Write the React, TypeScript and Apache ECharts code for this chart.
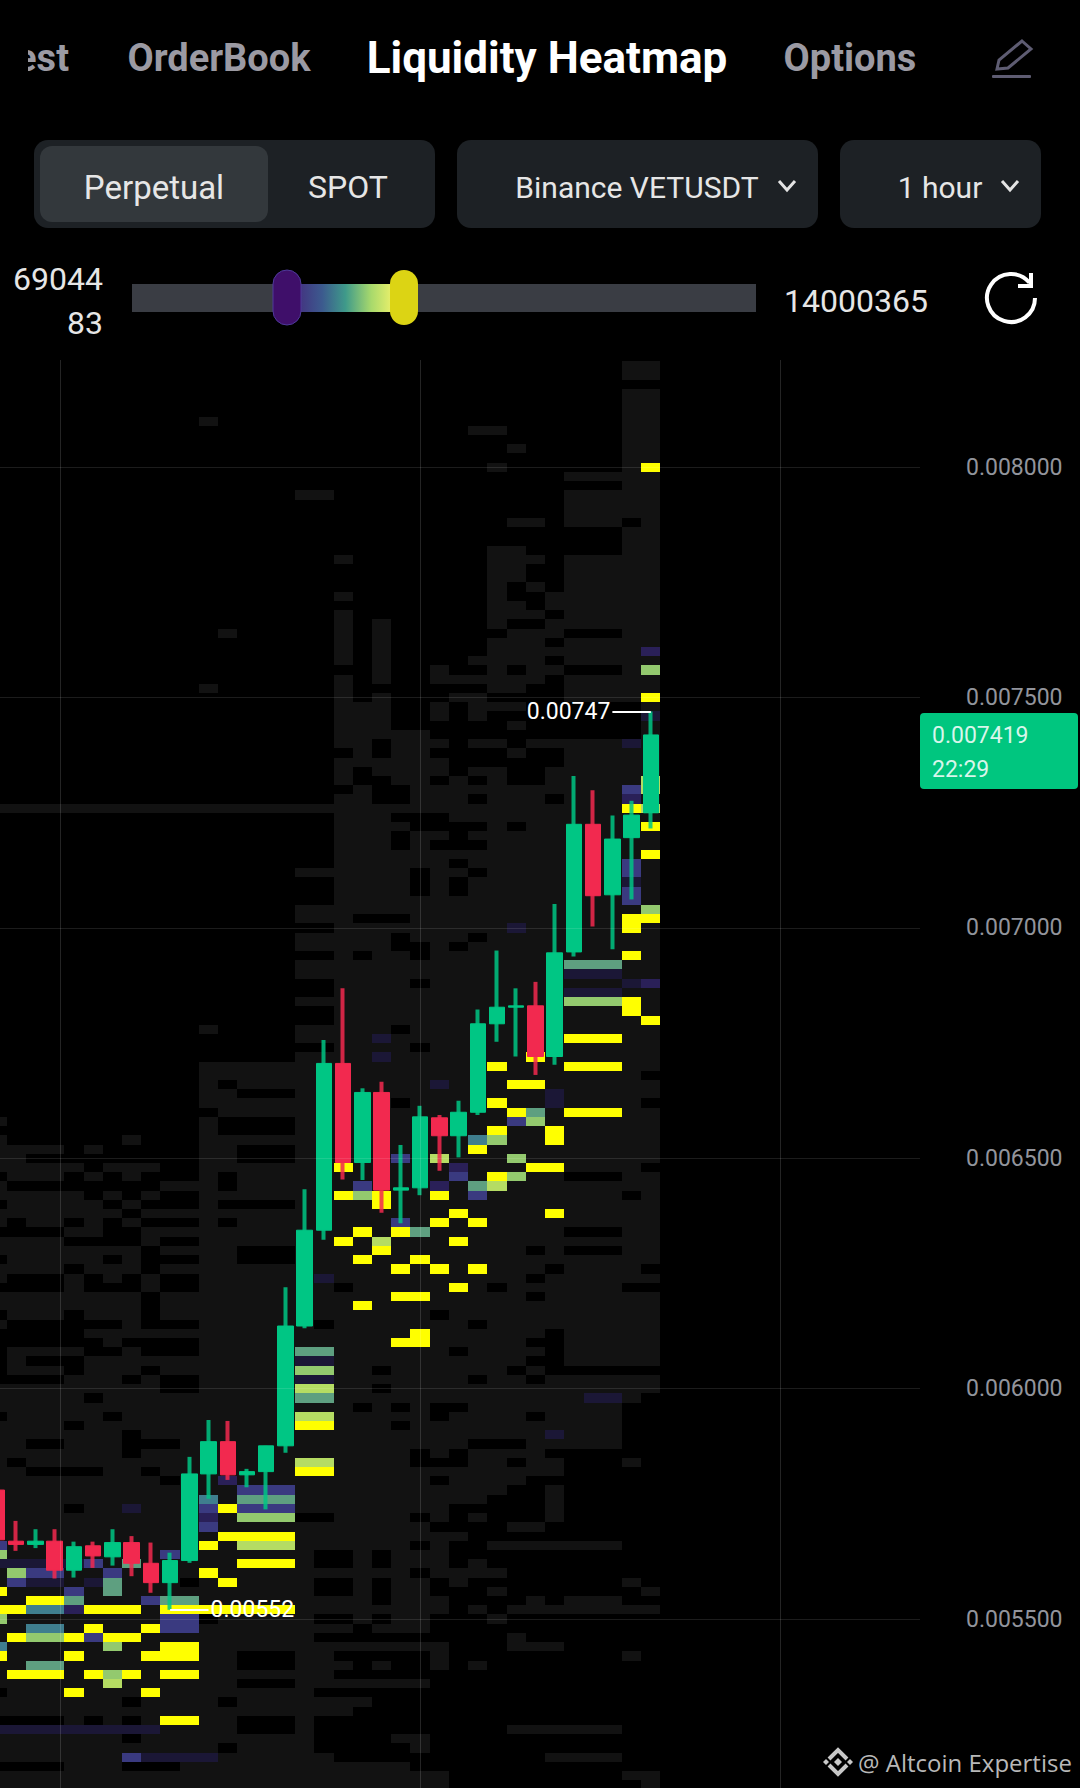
import React, { useEffect, useRef } from "react";
import * as echarts from "echarts";

type Cell = [number, number, number];
type Block = [number, number, number, number];

const binSize = 0.00002;
const bandCount = 49;
const priceTicks = 0.0005;
const lastPrice = 0.007419;
const highLabel = "0.00747";
const highPrice = 0.00747;
const lowLabel = "0.00552";
const lowPrice = 0.00552;

// open, close, low, high
const candles: number[][] = [
  [0.00578, 0.005672, 0.005661, 0.005782],
  [0.005669, 0.005662, 0.005648, 0.005713],
  [0.005662, 0.005669, 0.005654, 0.005695],
  [0.005669, 0.005606, 0.005588, 0.005695],
  [0.005606, 0.005657, 0.00559, 0.005668],
  [0.005659, 0.005637, 0.005611, 0.005668],
  [0.005635, 0.005666, 0.005616, 0.005695],
  [0.005666, 0.005621, 0.005593, 0.00568],
  [0.005621, 0.005579, 0.005557, 0.005666],
  [0.005579, 0.005627, 0.00552, 0.005644],
  [0.005627, 0.005815, 0.005622, 0.005852],
  [0.005815, 0.005885, 0.005761, 0.005932],
  [0.005885, 0.005813, 0.005802, 0.00593],
  [0.005813, 0.00582, 0.005786, 0.005826],
  [0.00582, 0.005876, 0.005738, 0.005876],
  [0.005876, 0.006136, 0.005861, 0.00622],
  [0.006136, 0.006344, 0.006131, 0.006433],
  [0.006344, 0.006706, 0.006323, 0.006757],
  [0.006706, 0.006491, 0.006454, 0.006869],
  [0.006491, 0.006643, 0.006453, 0.006652],
  [0.006643, 0.006431, 0.006382, 0.006666],
  [0.006431, 0.006436, 0.006359, 0.006529],
  [0.006436, 0.00659, 0.00642, 0.006614],
  [0.006588, 0.006549, 0.006473, 0.006594],
  [0.006549, 0.0066, 0.006502, 0.006625],
  [0.0066, 0.006792, 0.006594, 0.006823],
  [0.006792, 0.006828, 0.006753, 0.006951],
  [0.006828, 0.006831, 0.006721, 0.006869],
  [0.006831, 0.006721, 0.006681, 0.006883],
  [0.006721, 0.006946, 0.006703, 0.007052],
  [0.006948, 0.007225, 0.006938, 0.00733],
  [0.007225, 0.00707, 0.007003, 0.007299],
  [0.007072, 0.007193, 0.006954, 0.007244],
  [0.007196, 0.007245, 0.007062, 0.007276],
  [0.00725, 0.007419, 0.007216, 0.00747],
];

// Order-book cells: [first column, last column, price bin] (bin = price / 0.00002)
const yellowCells: Cell[] = [
  [34,34,400],[34,34,375],[33,33,363],[34,34,361],[34,34,358],[33,33,351],[33,33,350],[34,34,351],[33,33,347],[33,33,342],[33,33,341],[34,34,340],[30,32,338],[30,32,335],[26,26,335],[28,28,336],[27,28,333],[26,26,331],[27,27,330],[30,32,330],[26,26,328],[29,29,328],[29,29,327],[25,25,326],[18,18,324],[28,29,324],[26,26,323],[18,18,321],[20,20,321],[23,23,321],[20,20,320],[24,24,319],[29,29,319],[23,23,318],[25,25,318],[19,19,317],[21,21,317],[18,18,316],[24,24,316],[20,20,315],[19,19,314],[22,22,314],[21,21,313],[23,23,313],[25,25,313],[24,24,311],[21,22,310],[19,19,309],[22,22,306],[21,22,305],[16,17,296],[16,17,291],[12,12,287],[12,15,284],[11,11,283],[13,15,281],[11,11,280],[12,12,279],[0,0,278],[2,3,277],[0,1,276],[5,7,276],[9,15,276],[5,5,274],[8,8,274],[1,1,273],[4,4,273],[6,7,273],[9,10,272],[0,0,271],[4,4,271],[8,10,271],[1,3,269],[5,5,269],[7,7,269],[9,10,269],[4,4,267],[8,8,267],[9,10,264],
];
const limeCells: Cell[] = [
  [20,20,316],[26,26,322],[16,17,300],[16,17,297],[16,17,292],[13,15,283],[6,6,268],[23,23,325],[34,34,366],[34,34,365],[34,34,363],
];
const leafCells: Cell[] = [
  [34,34,378],[34,34,352],[30,32,342],[28,28,329],[26,26,327],[27,27,325],[27,27,323],[19,19,321],[16,17,302],[13,15,286],[0,0,282],[1,1,280],[0,0,275],[2,3,273],[6,6,272],[6,6,269],
];
const greenCells: Cell[] = [
  [30,32,346],[28,28,330],[25,25,322],[22,22,317],[16,17,304],[16,17,299],[13,15,288],[4,4,277],[9,10,277],[6,6,279],[6,6,278],[2,3,270],[7,7,281],
];
const tealCells: Cell[] = [
  [25,25,327],[11,11,288],[2,3,276],[2,3,274],[0,0,272],
];
const indigoCells: Cell[] = [
  [21,21,325],[27,27,329],[19,19,322],[24,24,323],[25,25,321],[21,21,318],[33,33,365],[33,33,357],[33,33,356],[33,33,354],[33,33,353],[13,15,289],[13,15,287],[11,11,287],[9,9,282],[0,0,283],[5,5,281],[2,3,280],[6,6,280],[1,1,279],[4,4,278],[8,8,277],[9,10,275],[9,10,274],[5,5,273],[7,7,260],[11,11,285],
];
const purpleCells: Cell[] = [
  [34,34,380],[34,34,344],[23,23,322],[24,24,324],[33,33,364],[4,4,276],[11,11,286],[12,12,290],
];
const duskCells: Cell[] = [
  [34,34,373],[33,33,370],[33,33,355],[33,33,344],[30,32,343],[30,32,345],[29,29,332],[29,29,331],[17,17,312],[16,17,303],[16,17,301],[0,5,281],[3,8,263],[8,11,260],[2,3,279],[5,6,279],
  [20,20,338],[20,20,336],[23,23,333],[27,27,350],[31,32,299],[29,29,295],[7,7,287],[0,2,263],
];

// Faint grey zones: [first column, last column, top bin, bottom bin]
const darkBlocks: Block[] = [
  [33,34,411,410],[33,34,408,301],[18,32,369,301],
  [11,11,405,405],[25,26,404,404],[27,27,402,402],[26,26,400,400],[30,32,399,399],[30,32,397,394],[16,17,397,397],[27,28,394,394],[30,32,390,383],[30,32,381,379],[30,32,377,375],[26,27,391,388],[26,26,387,383],[28,28,390,390],[28,28,387,387],[18,18,390,390],[18,18,386,386],[18,18,384,379],[18,18,377,370],[20,20,383,377],[20,20,375,371],[12,12,382,382],[29,29,386,385],[29,29,383,382],[29,29,380,380],[29,29,378,378],[27,27,385,384],[28,28,384,384],[27,28,382,379],[26,26,381,379],[25,25,379,379],[26,26,378,378],[28,28,378,378],[23,23,378,377],[24,28,377,377],[11,11,376,376],[26,27,376,376],[24,25,375,375],[19,19,374,370],[23,23,374,373],[25,27,374,374],[25,25,373,373],[27,27,372,372],[21,22,371,370],[23,23,370,370],[25,26,370,370],[28,32,370,370],
  [0,17,363,363],[16,17,356,356],[16,17,352,351],[16,17,349,348],[16,17,346,345],[16,17,342,342],[16,17,339,338],[16,17,336,256],[11,11,339,339],[11,15,335,256],
  [0,0,329,329],[0,0,327,327],[7,7,327,327],[0,3,326,326],[5,5,326,326],[0,1,325,325],[0,4,324,324],[6,8,324,324],[1,3,323,323],[5,5,323,323],[7,7,323,323],[0,0,322,322],[9,10,322,322],[0,4,321,321],[6,6,321,321],[8,8,321,321],[1,5,320,320],[7,7,320,320],[0,6,319,319],[8,10,319,319],[0,0,318,318],[2,3,318,318],[5,5,318,318],[7,7,318,318],[4,5,317,317],[8,10,317,317],[0,3,316,316],[8,8,316,316],[0,7,315,315],[9,10,315,315],[1,5,314,314],[7,7,314,314],[0,3,313,313],[5,7,313,313],[9,10,313,313],[0,0,312,312],[4,4,312,312],[6,6,312,312],[8,8,312,312],[4,4,311,311],[8,8,311,311],[0,7,310,310],[9,10,310,310],[0,7,309,309],[9,10,309,309],[1,3,308,308],[5,7,308,308],[9,10,308,308],[0,0,307,307],[7,7,307,307],[5,10,306,306],[6,6,305,305],[1,4,304,304],[7,7,304,304],[1,1,303,303],[5,10,303,303],[1,3,302,302],[5,7,302,302],[9,10,302,302],[4,6,301,301],[8,8,301,301],[0,8,300,300],[0,4,299,299],[6,10,299,299],[0,10,298,256],
  [18,34,300,300],[18,33,299,299],[18,32,298,294],[18,28,293,293],[18,29,292,291],[33,33,292,292],[18,27,290,290],[18,26,289,289],[29,29,289,286],[18,25,288,288],[18,23,287,286],[25,25,286,286],[18,22,285,285],[27,28,285,285],[18,24,284,284],[18,23,283,281],[26,32,283,283],[25,25,281,281],[18,26,280,280],[18,22,279,278],[24,24,279,279],[33,33,279,279],[26,26,278,278],[34,34,278,278],[18,23,277,276],[28,28,277,277],[30,32,277,277],[25,25,276,276],[27,34,276,276],[18,22,275,274],[26,26,275,275],[27,27,273,273],[18,23,272,272],[27,29,272,272],[23,23,271,270],[33,33,271,271],[18,18,270,270],[20,20,270,270],[25,25,270,270],[18,22,268,268],[18,19,266,266],[18,18,265,265],[27,32,263,263],[21,22,262,262],[22,22,261,261],[29,32,260,260],[18,21,259,259],[18,23,258,256],[33,34,258,258],[34,34,257,256],
];

// Empty gaps in the grey zones: [first column, last column, bin]
const gapCells: Cell[] = [
  [0,0,297],[6,6,297],[4,4,296],[7,7,295],[7,7,294],[7,7,293],[2,3,294],[8,9,294],[1,1,292],[2,5,291],[8,8,291],[9,9,290],[4,4,287],[16,17,286],[17,17,282],[17,17,281],[17,17,279],[17,17,278],[10,10,279],[11,11,275],[17,17,275],[17,17,273],[13,15,271],[13,15,270],[13,15,268],[0,0,267],[17,17,267],[7,7,266],[12,12,266],[0,3,264],[5,5,264],[7,7,264],[13,15,264],[17,17,264],[13,15,263],[17,17,263],[7,7,262],[17,17,262],[12,12,261],[17,17,261],[0,3,259],[7,9,259],
  [12,12,333],[13,15,332],[11,11,330],[12,15,329],[12,15,328],[13,15,326],[13,15,325],[12,12,323],[12,12,322],[12,15,320],[12,12,318],[13,15,315],[13,15,314],[17,17,307],
  [19,19,347],[22,22,347],[22,22,344],[21,21,339],[22,22,337],[21,21,331],[34,34,334],[34,34,331],[34,34,324],[30,32,323],[33,33,321],[30,32,317],[30,32,315],[28,28,315],[29,29,313],[34,34,313],[28,28,312],[18,18,311],[26,26,311],[33,34,311],[28,28,310],[23,23,308],[25,25,307],[29,29,306],[28,29,305],[24,24,304],[29,29,304],[28,29,303],[20,20,302],[27,27,302],[29,34,302],[25,25,301],[28,28,301],[20,20,300],
  [18,18,369],[20,20,369],[23,26,369],[28,29,369],[24,29,368],[19,19,367],[24,24,367],[27,28,367],[19,20,366],[23,23,366],[25,25,366],[27,28,366],[18,18,365],[20,21,365],[20,21,364],[25,25,364],[29,29,364],[21,23,362],[22,25,361],[27,27,361],[21,21,360],[24,24,360],[21,21,359],[23,25,359],[24,24,357],[22,22,356],[25,25,356],[22,22,355],[24,24,355],[22,22,354],[24,24,354],[19,21,351],[21,21,349],[25,25,349],[21,22,348],[24,24,348],
  [33,33,394],[33,33,374],[33,33,373],[33,33,372],[33,33,371],
  [20,20,300],[19,19,298],[21,21,298],[23,24,298],[23,23,297],[28,28,297],[21,21,296],[25,27,294],[22,22,293],[24,24,293],[22,24,292],[27,27,292],[23,23,290],[22,22,286],[22,22,283],[18,18,282],[20,20,282],[18,18,281],[20,20,281],[22,22,280],[18,18,279],[20,20,279],[18,18,278],[20,20,278],[20,20,277],[18,18,275],[20,20,275],[19,19,274],
];

const FONT = "Roboto";
const BG = "#000000";
const TILE = "#121212";
const UP = "#00C684";
const DOWN = "#F2294F";

const toRows = (cells: Cell[]) =>
  cells.map(([a, b, bin]) => [a, (bin + 0.5) * binSize, b, (bin - 0.5) * binSize]);
const blockRows = (blocks: Block[]) =>
  blocks.map(([a, b, hi, lo]) => [a, (hi + 0.5) * binSize, b, (lo - 0.5) * binSize]);

const cellRender = (color: string) => (_: any, api: any) => {
  const band = api.size([1, 0])[0];
  const p1 = api.coord([api.value(0), api.value(1)]);
  const p2 = api.coord([api.value(2), api.value(3)]);
  const x0 = Math.round(p1[0] - band / 2);
  const x1 = Math.round(p2[0] + band / 2);
  const y0 = Math.round(p1[1]);
  const y1 = Math.round(p2[1]);
  return { type: "rect", shape: { x: x0, y: y0, width: x1 - x0, height: y1 - y0 }, style: { fill: color } };
};

const cellSeries = (name: string, color: string, data: number[][]) => ({
  type: "custom",
  name,
  xAxisIndex: 1,
  yAxisIndex: 1,
  z: 1,
  silent: true,
  clip: true,
  renderItem: cellRender(color),
  data,
});

const txt = (text: string, x: number, y: number, size: number, fill: string, align = "center", weight = 400, family = FONT) => ({
  type: "text",
  silent: true,
  style: { text, x, y, fill, align, verticalAlign: "middle", font: `${weight} ${size}px "${family}"` },
});
const box = (x: number, y: number, w: number, h: number, r: number, fill: any, extra: any = {}) => ({
  type: "rect",
  silent: true,
  shape: { x, y, width: w, height: h, r },
  style: { fill, ...extra },
});
const chevron = (cx: number, cy: number) => ({
  type: "polyline",
  silent: true,
  shape: { points: [[cx - 8, cy - 5], [cx, cy + 4], [cx + 8, cy - 5]] },
  style: { stroke: "#e4e4e4", lineWidth: 3, fill: "none" },
});
const diamond = (cx: number, cy: number, r: number) => ({
  type: "polygon",
  silent: true,
  shape: { points: [[cx, cy - r], [cx + r, cy], [cx, cy + r], [cx - r, cy]] },
  style: { fill: "#c8c8c8" },
});
const stroke = (points: number[][], color: string, lineWidth: number) => ({
  type: "polyline",
  silent: true,
  shape: { points },
  style: { stroke: color, lineWidth, fill: "none" },
});

export default function App() {
  const ref = useRef<HTMLDivElement>(null);
  useEffect(() => {
    document.body.style.margin = "0";
    document.body.style.background = BG;
    const chart = echarts.init(ref.current!, undefined, { renderer: "svg" });
    const axisMin = 0.005;
    const axisMax = 0.0082328;
    const plotTop = 360;
    const plotH = 1489.4;
    const band = 19.23;
    const hiddenY = { type: "value", show: false, min: axisMin, max: axisMax };
    const sliderFill = new echarts.graphic.LinearGradient(0, 0, 1, 0, [
      { offset: 0, color: "#46207a" },
      { offset: 0.3, color: "#3c5a8e" },
      { offset: 0.5, color: "#3f9a8a" },
      { offset: 0.72, color: "#a8d96c" },
      { offset: 0.92, color: "#f0f26a" },
      { offset: 1, color: "#f6f66c" },
    ]);
    chart.setOption({
      animation: false,
      backgroundColor: BG,
      grid: [
        { left: 0, top: plotTop, width: 920, height: plotH, outerBoundsMode: "none" },
        { left: -12.6, top: plotTop, width: band * bandCount, height: plotH, outerBoundsMode: "none" },
        { left: 60, top: plotTop, width: 720, height: 1428, outerBoundsMode: "none" },
      ],
      xAxis: [
        { type: "value", gridIndex: 0, show: false, min: 0, max: 920 },
        { type: "category", gridIndex: 1, show: false, boundaryGap: true, data: Array.from({ length: bandCount }, (_, i) => String(i)) },
        {
          type: "value", gridIndex: 2, min: 0, max: 720, interval: 360, z: 5,
          axisLine: { show: false }, axisTick: { show: false }, axisLabel: { show: false },
          splitLine: { show: true, lineStyle: { color: "rgba(255,255,255,0.14)", width: 1 } },
        },
      ],
      yAxis: [
        {
          type: "value", gridIndex: 0, position: "right", min: axisMin, max: axisMax, interval: priceTicks, z: 5,
          axisLine: { show: false }, axisTick: { show: false },
          axisLabel: {
            show: true, margin: 46, color: "#92949C", fontSize: 23, fontFamily: FONT, showMaxLabel: false, showMinLabel: false,
            formatter: (v: number) => v.toFixed(6),
          },
          splitLine: { show: true, showMaxLine: false, showMinLine: false, lineStyle: { color: "rgba(255,255,255,0.11)", width: 1 } },
        },
        { ...hiddenY, gridIndex: 1 },
        { type: "value", gridIndex: 2, show: false, min: 0, max: 1 },
      ],
      series: [
        cellSeries("grey", TILE, blockRows(darkBlocks)),
        cellSeries("gaps", BG, toRows(gapCells)),
        cellSeries("dusk", "#1B1736", toRows(duskCells)),
        cellSeries("purple", "#2A2058", toRows(purpleCells)),
        cellSeries("indigo", "#3A3A80", toRows(indigoCells)),
        cellSeries("teal", "#3F7E8E", toRows(tealCells)),
        cellSeries("green", "#5E9F80", toRows(greenCells)),
        cellSeries("leaf", "#93C96E", toRows(leafCells)),
        cellSeries("lime", "#B5DC63", toRows(limeCells)),
        cellSeries("yellow", "#FFFF00", toRows(yellowCells)),
        {
          type: "candlestick", name: "wicks", xAxisIndex: 1, yAxisIndex: 1, z: 3, silent: true,
          barWidth: 1,
          data: candles,
          itemStyle: { color: UP, color0: DOWN, borderColor: UP, borderColor0: DOWN, borderWidth: 4, opacity: 0.85 },
        },
        {
          type: "candlestick", name: "bodies", xAxisIndex: 1, yAxisIndex: 1, z: 4, silent: true,
          barWidth: 16,
          data: candles.map(([o, c]) => [o, c, Math.min(o, c), Math.max(o, c)]),
          itemStyle: { color: UP, color0: DOWN, borderColor: UP, borderColor0: DOWN, borderWidth: 1 },
          markLine: {
            silent: true, symbol: ["none", "none"], animation: false, z: 6,
            lineStyle: { color: "#ffffff", width: 2, type: "solid" },
            label: { show: true, position: "end", formatter: "{b}", color: "#ffffff", fontSize: 23, fontFamily: FONT, distance: 2 },
            data: [
              [{ name: highLabel, coord: ["34", highPrice] }, { coord: ["32", highPrice] }],
              [{ name: lowLabel, coord: ["9", lowPrice] }, { coord: ["11", lowPrice] }],
            ],
          },
        },
        {
          type: "line", name: "last", xAxisIndex: 0, yAxisIndex: 0, z: 6, data: [], silent: true,
          markLine: {
            silent: true, symbol: ["none", "none"], animation: false, label: { show: false },
            lineStyle: { color: "#3FAE8E", width: 2, type: [6, 7] },
            data: [{ yAxis: lastPrice }],
          },
        },
      ],
      graphic: {
        elements: [
          txt("est", 69, 58, 38, "#9b9aa3", "right", 700),
          box(0, 30, 28, 56, 0, BG),
          txt("OrderBook", 219, 58, 38, "#9b9aa3", "center", 700),
          txt("Liquidity Heatmap", 547, 58, 44, "#ffffff", "center", 700),
          txt("Options", 850, 58, 38, "#9b9aa3", "center", 700),
          { type: "polygon", silent: true, shape: { points: [[1022, 41], [1031, 49], [1008, 68], [997, 69], [999, 60]] }, style: { stroke: "#5e5c72", lineWidth: 3, fill: "none" } },
          box(992, 75, 39, 3, 1, "#5e5c72"),
          box(34, 140, 401, 88, 14, "#1D2125"),
          box(40, 146, 228, 76, 12, "#33383C"),
          txt("Perpetual", 154, 187, 33, "#e6e6e6"),
          txt("SPOT", 348, 187, 32, "#e6e6e6"),
          box(457, 140, 361, 88, 14, "#1D2125"),
          txt("Binance VETUSDT", 637, 187, 30, "#e6e6e6"),
          chevron(787, 186),
          box(840, 140, 201, 88, 14, "#1D2125"),
          txt("1 hour", 940, 187, 30, "#e6e6e6"),
          chevron(1010, 186),
          txt("69044", 103, 279, 32, "#e6e6e6", "right"),
          txt("83", 103, 323, 32, "#e6e6e6", "right"),
          box(132, 284, 624, 28, 0, "#3A3D44"),
          box(287, 284, 117, 28, 0, sliderFill),
          box(273, 270, 28, 55, 14, "#3F0F6A", { stroke: "#4E3A9A", lineWidth: 1 }),
          box(390, 270, 28, 55, 14, "#DCD414"),
          txt("14000365", 856, 301, 32, "#e6e6e6"),
          { type: "arc", silent: true, shape: { cx: 1011, cy: 298, r: 24, startAngle: 0, endAngle: 5.6, clockwise: true }, style: { stroke: "#ffffff", lineWidth: 4, fill: "none" } },
          stroke([[1031, 273], [1031, 286], [1018, 286]], "#ffffff", 4),
          box(920, 713, 158, 76, 4, "#00C67F"),
          txt("0.007419", 932, 735, 23, "rgba(255,255,255,0.85)", "left"),
          txt("22:29", 932, 769, 23, "rgba(255,255,255,0.85)", "left"),
          stroke([[829, 1759], [838, 1750], [847, 1759]], "#c8c8c8", 4),
          stroke([[829, 1765], [838, 1774], [847, 1765]], "#c8c8c8", 4),
          diamond(838, 1762, 4),
          diamond(826, 1762, 3),
          diamond(850, 1762, 3),
          txt("@ Altcoin Expertise", 858, 1762, 24, "#b8b8b8", "left", 400, "Open Sans"),
        ],
      },
    });
    return () => chart.dispose();
  }, []);
  return <div ref={ref} style={{ position: "absolute", left: 0, top: 0, width: 1080, height: 1788, background: BG }} />;
}
